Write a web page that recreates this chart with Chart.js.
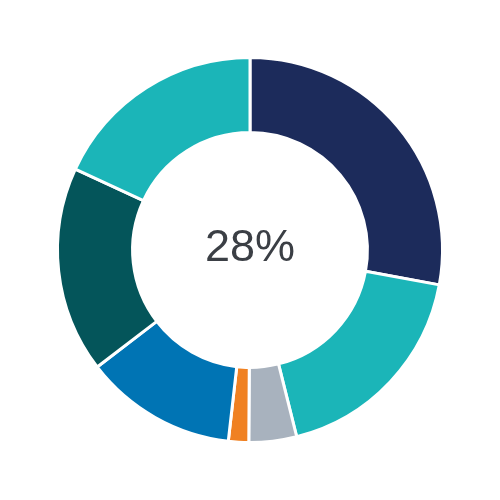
<!DOCTYPE html>
<html>
<head>
<meta charset="utf-8">
<script src="https://cdn.jsdelivr.net/npm/chart.js@4"></script>
<style>
  html, body { margin: 0; padding: 0; background: #fff; }
  #wrap { width: 500px; height: 500px; }
</style>
</head>
<body>
<div id="wrap"><canvas id="donut"></canvas></div>
<script>
const labels = ['A', 'B', 'C', 'D', 'E', 'F', 'G'];
const values = [27.9, 18.2, 4.0, 1.7, 12.8, 17.3, 18.1];
const colors = ['#1c2b5b', '#1bb5b8', '#a8b2be', '#f08122', '#0074b4', '#04555a', '#1bb5b8'];
const centerText = '28%';

const centerLabel = {
    id: 'centerLabel',
    afterDraw(chart) {
        const ctx = chart.ctx;
        const meta = chart.getDatasetMeta(0).data[0];
        ctx.save();
        ctx.font = '45px "Liberation Sans", Arial, sans-serif';
        ctx.fillStyle = '#3b3f45';
        ctx.textAlign = 'center';
        ctx.textBaseline = 'middle';
        ctx.fillText(centerText, meta.x, meta.y - 1);
        ctx.restore();
    }
};

new Chart(document.getElementById('donut'), {
    type: 'doughnut',
    data: {
        labels: labels,
        datasets: [{
            data: values,
            backgroundColor: colors,
            borderColor: '#ffffff',
            borderWidth: 3
        }]
    },
    options: {
        responsive: true,
        maintainAspectRatio: false,
        animation: false,
        cutout: '61%',
        layout: { padding: 56 },
        plugins: {
            legend: { display: false },
            tooltip: { enabled: false }
        }
    },
    plugins: [centerLabel]
});
</script>
</body>
</html>
